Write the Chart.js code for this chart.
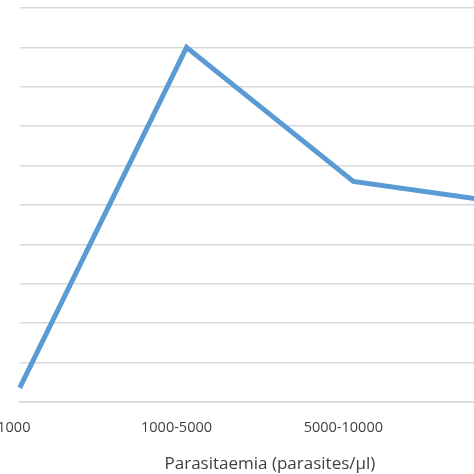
<!DOCTYPE html>
<html>
<head>
<meta charset="utf-8">
<script src="https://cdn.jsdelivr.net/npm/chart.js@4"></script>
<style>
  html, body { margin: 0; padding: 0; background: #fff; overflow: hidden; }
  #wrap { position: absolute; left: -10px; top: 0; width: 564px; height: 474px; }
</style>
</head>
<body>
<div id="wrap"><canvas id="chart"></canvas></div>
<script>
// data
const categories = ["<1000", "1000-5000", "5000-10000", ">10000"];
const values = [0.36, 9.0, 5.6, 5.0];
const yMin = 0, yMax = 10, yStep = 1;

new Chart(document.getElementById('chart'), {
    type: 'line',
    data: {
        labels: categories,
        datasets: [{
            data: values,
            borderColor: '#5b9bd5',
            borderWidth: 5,
            pointRadius: 0,
            tension: 0,
            clip: false
        }]
    },
    options: {
        responsive: true,
        maintainAspectRatio: false,
        animation: false,
        layout: { padding: { top: 8, left: 0, right: 0, bottom: 0 } },
        plugins: { legend: { display: false }, tooltip: { enabled: false } },
        scales: {
            x: {
                offset: false,
                grid: { display: false },
                border: { color: '#d9d9d9', width: 1.5 },
                ticks: {
                    color: '#404040',
                    font: { family: 'Open Sans', size: 14.5 },
                    labelOffset: -10,
                    padding: 9,
                    maxRotation: 0,
                    autoSkip: false
                },
                title: {
                    display: true,
                    text: 'Parasitaemia (parasites/µl)',
                    color: '#404040',
                    font: { family: 'Open Sans', size: 17 },
                    padding: { top: 8, bottom: 0 }
                },
                afterFit: function (scale) { scale.height = 72; }
            },
            y: {
                display: true,
                min: yMin,
                max: yMax,
                ticks: { stepSize: yStep, display: false },
                border: { display: false },
                grid: { color: '#d9d9d9', lineWidth: 1.5, drawTicks: false },
                afterFit: function (scale) { scale.width = 0; }
            }
        }
    }
});
</script>
</body>
</html>
